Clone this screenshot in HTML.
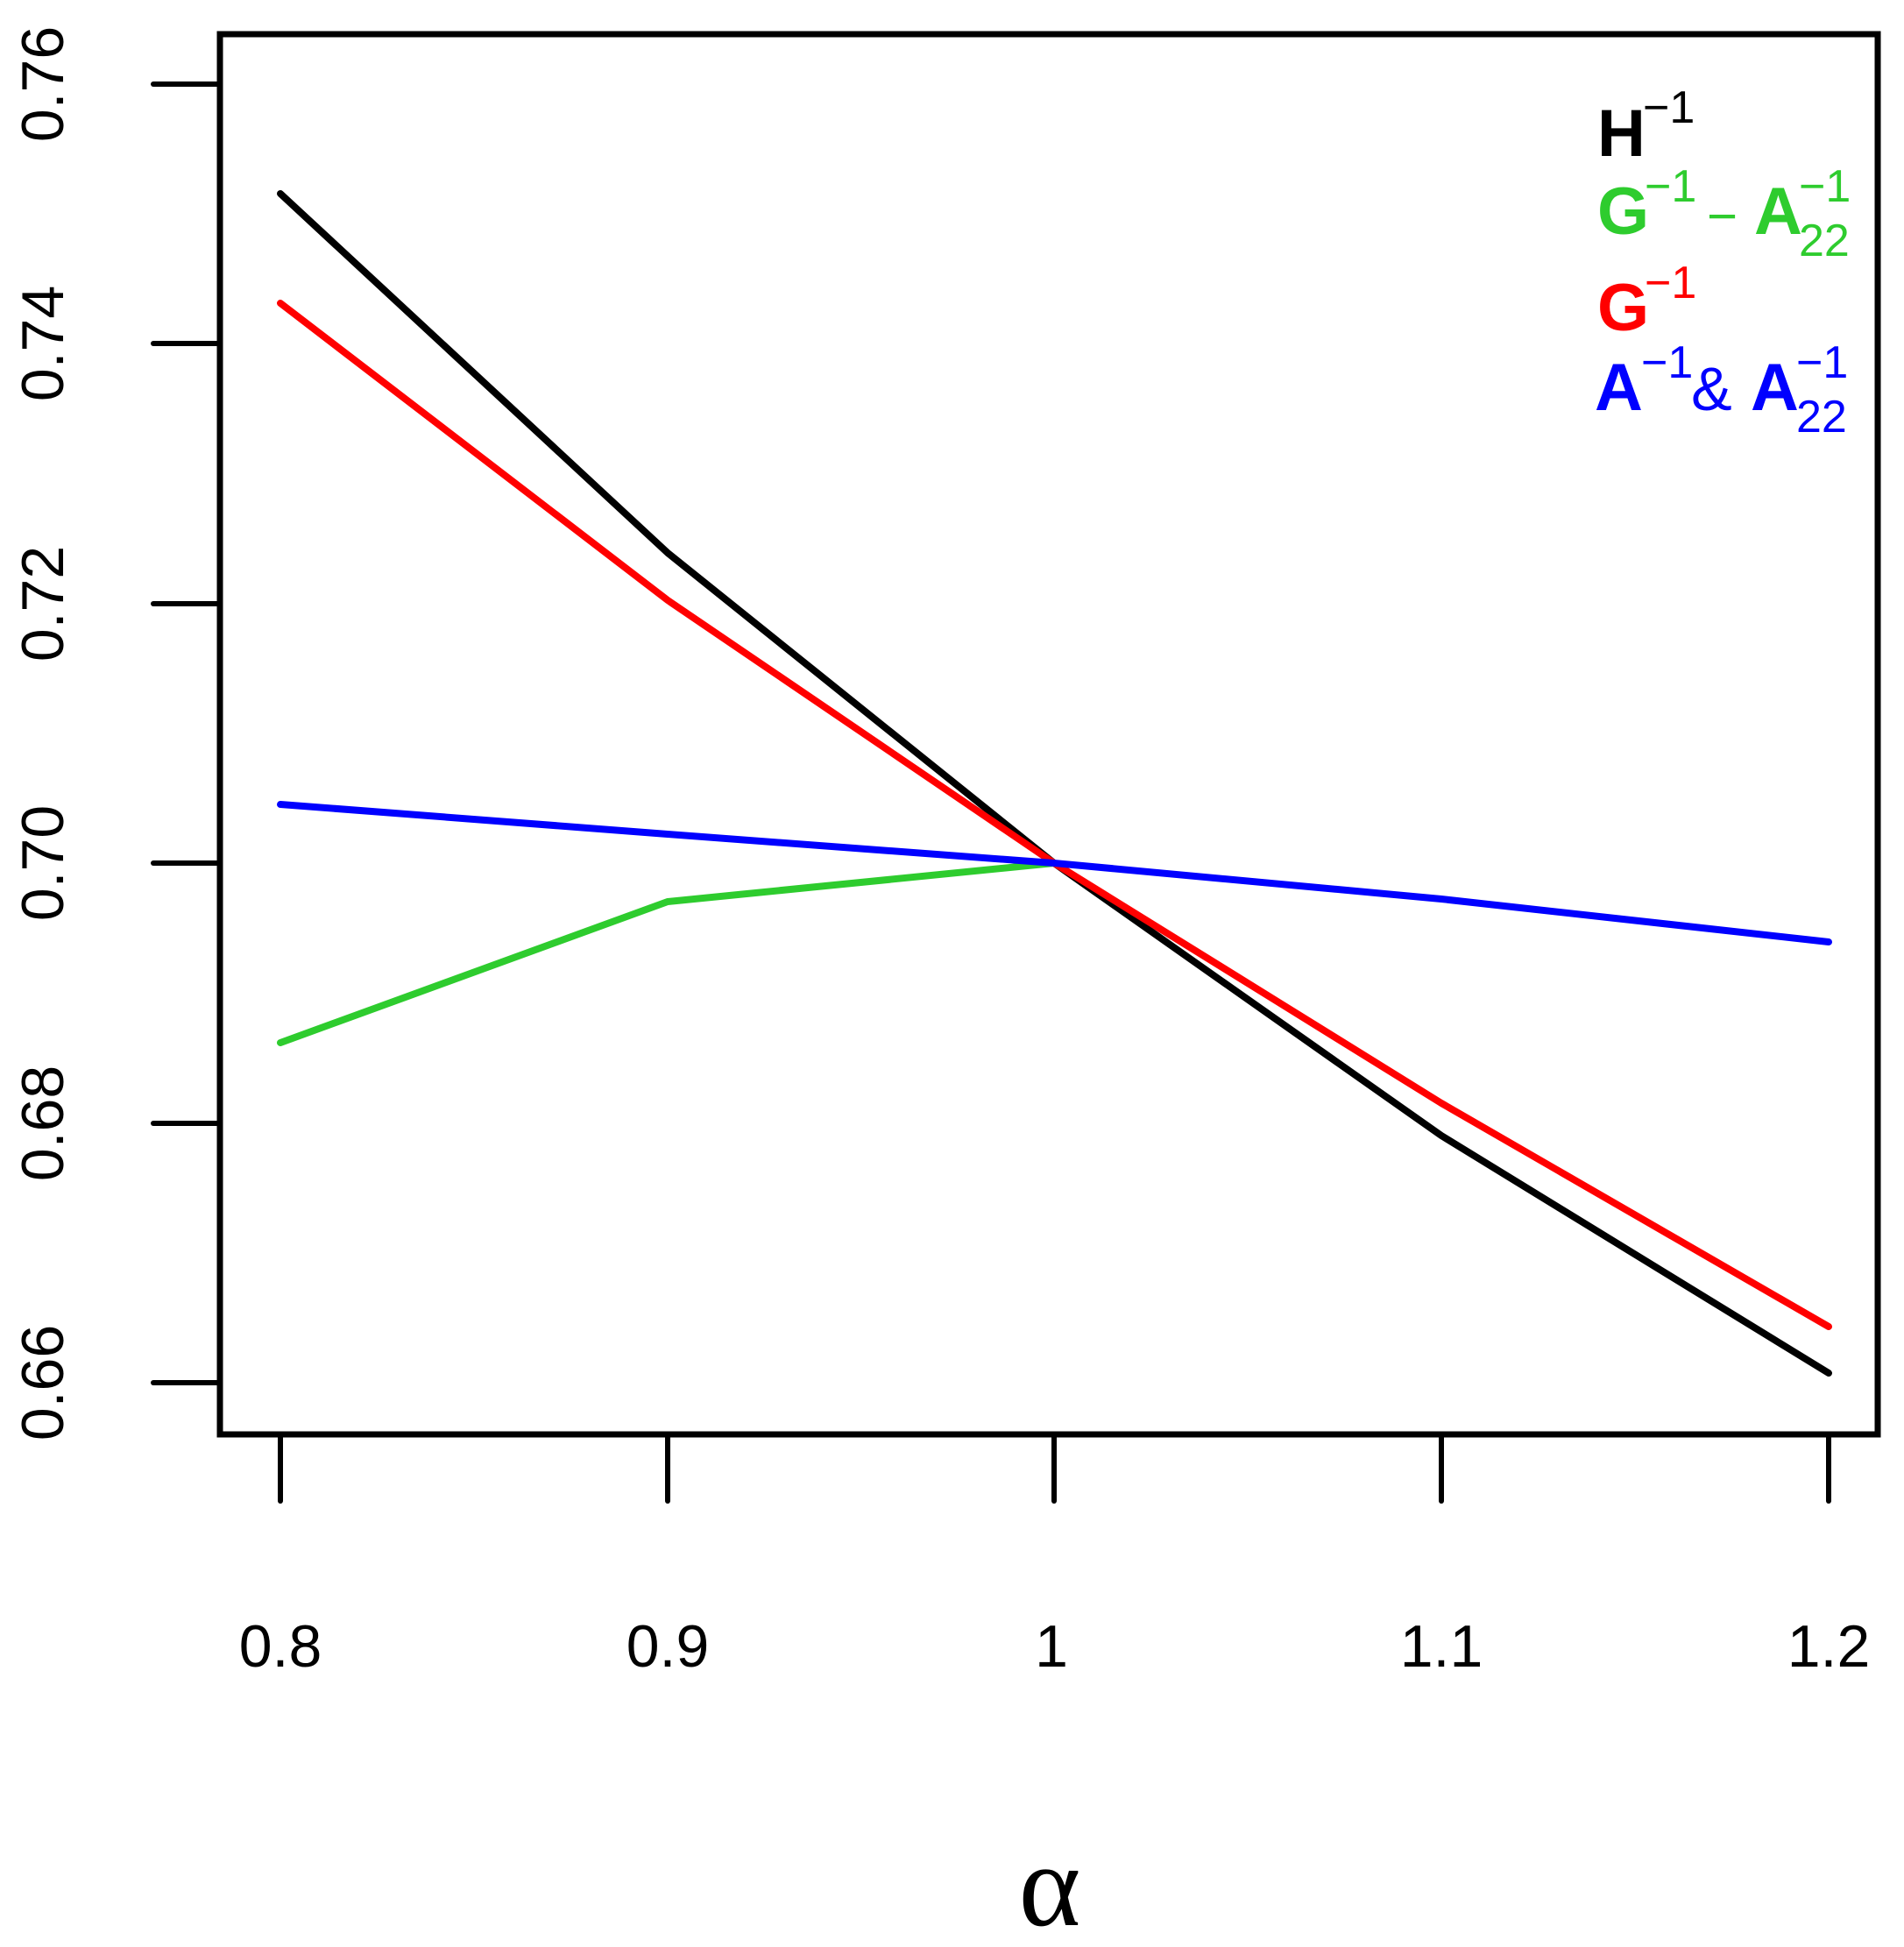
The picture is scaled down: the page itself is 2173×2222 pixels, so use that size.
<!DOCTYPE html>
<html><head><meta charset="utf-8"><style>html,body{margin:0;padding:0;background:#fff}</style></head>
<body>
<svg width="2173" height="2217" viewBox="0 0 2173 2217" xmlns="http://www.w3.org/2000/svg">
<rect width="2173" height="2217" fill="#fff"/>
<g fill="none" stroke-linejoin="round" stroke-linecap="round" stroke-width="8">
<polyline stroke="#2ecc2e" points="320,1190 762,1029 1203,985"/>
<polyline stroke="#000" points="320,221 762,631 1203,985 1645,1296 2087,1567"/>
<polyline stroke="#ff0000" points="320,346 762,685 1203,985 1645,1259 2087,1514"/>
<polyline stroke="#0000ff" points="320,918 762,952 1203,985 1645,1026 2087,1075"/>
</g>
<rect x="251" y="39" width="1892" height="1598" fill="none" stroke="#000" stroke-width="7"/>
<g stroke="#000" stroke-width="6" stroke-linecap="round">
<line x1="320" y1="1637" x2="320" y2="1713"/>
<line x1="762" y1="1637" x2="762" y2="1713"/>
<line x1="1203" y1="1637" x2="1203" y2="1713"/>
<line x1="1645" y1="1637" x2="1645" y2="1713"/>
<line x1="2087" y1="1637" x2="2087" y2="1713"/>
<line x1="175" y1="96" x2="251" y2="96"/>
<line x1="175" y1="392" x2="251" y2="392"/>
<line x1="175" y1="689" x2="251" y2="689"/>
<line x1="175" y1="985" x2="251" y2="985"/>
<line x1="175" y1="1282" x2="251" y2="1282"/>
<line x1="175" y1="1578" x2="251" y2="1578"/>
</g>
<g font-family="Liberation Sans, sans-serif" font-size="68" text-anchor="middle" fill="#000">
<text x="320" y="1902">0.8</text>
<text x="762" y="1902">0.9</text>
<text x="1200" y="1902">1</text>
<text x="1645" y="1902">1.1</text>
<text x="2087" y="1902">1.2</text>
<text transform="translate(72,96) rotate(-90)">0.76</text>
<text transform="translate(72,392) rotate(-90)">0.74</text>
<text transform="translate(72,689) rotate(-90)">0.72</text>
<text transform="translate(72,985) rotate(-90)">0.70</text>
<text transform="translate(72,1282) rotate(-90)">0.68</text>
<text transform="translate(72,1578) rotate(-90)">0.66</text>
</g>
<text x="1198" y="2197" font-family="Liberation Serif, serif" font-size="135" text-anchor="middle">α</text>
<g font-family="Liberation Sans, sans-serif">
<text x="1823" y="178" font-size="76" font-weight="bold" fill="#000">H</text>
<text x="1875" y="140" font-size="52" fill="#000">−1</text>
<text x="1823" y="267" font-size="76" font-weight="bold" fill="#2ecc2e">G</text>
<text x="1877" y="230" font-size="52" fill="#2ecc2e">−1</text>
<text x="1948" y="267" font-size="60" fill="#2ecc2e">−</text>
<text x="2002" y="267" font-size="76" font-weight="bold" fill="#2ecc2e">A</text>
<text x="2053" y="230" font-size="52" fill="#2ecc2e">−1</text>
<text x="2053" y="292" font-size="52" fill="#2ecc2e">22</text>
<text x="1823" y="377" font-size="76" font-weight="bold" fill="#ff0000">G</text>
<text x="1877" y="340" font-size="52" fill="#ff0000">−1</text>
<text x="1820" y="468" font-size="76" font-weight="bold" fill="#0000ff">A</text>
<text x="1873" y="431" font-size="52" fill="#0000ff">−1</text>
<text x="1930" y="468" font-size="70" fill="#0000ff">&amp;</text>
<text x="1998" y="468" font-size="76" font-weight="bold" fill="#0000ff">A</text>
<text x="2050" y="431" font-size="52" fill="#0000ff">−1</text>
<text x="2050" y="493" font-size="52" fill="#0000ff">22</text>
</g>
</svg>
</body></html>
